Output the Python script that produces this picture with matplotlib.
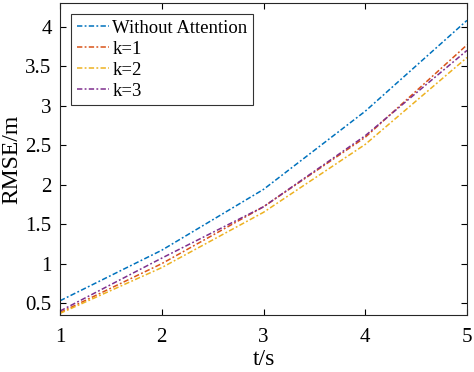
import numpy as np
import matplotlib
matplotlib.use('Agg')
from matplotlib import pyplot as plt

plt.rcParams['font.family'] = ['Liberation Serif', 'DejaVu Serif']
plt.rcParams['mathtext.fontset'] = 'stix'

# prediction horizon and RMSE values
t = [1, 2, 3, 4, 5]
rmse_without = [0.53, 1.17, 1.94, 2.93, 4.08]
rmse_k1 = [0.38, 1.00, 1.72, 2.60, 3.77]
rmse_k2 = [0.37, 0.95, 1.65, 2.51, 3.61]
rmse_k3 = [0.40, 1.07, 1.72, 2.62, 3.70]

labels = ['Without Attention', 'k=1', 'k=2', 'k=3']
colors = ['#0072BD', '#D95319', '#EDB120', '#7E2F8E']

fig = plt.figure(figsize=(4.74, 3.72), dpi=100)
ax = fig.add_axes([60 / 474, 57 / 372, 407 / 474, 312 / 372])

# short matlab-like dash-dot
dashdot = (0, (3.5, 1.5, 1.2, 1.5))
for y, lab, c in zip([rmse_without, rmse_k1, rmse_k2, rmse_k3], labels, colors):
    ax.plot(t, y, linestyle=dashdot, color=c, linewidth=1.1, label=lab)

ax.set_xlim(1, 5)
ax.set_ylim(0.35, 4.3)
ax.set_xticks([1, 2, 3, 4, 5])
ax.set_yticks([0.5, 1, 1.5, 2, 2.5, 3, 3.5, 4])
ax.set_yticklabels(['0.5', '1', '1.5', '2', '2.5', '3', '3.5', '4'])
ax.tick_params(direction='in', labelsize=15, length=4, width=0.8, top=True, right=True)
ax.tick_params(axis='x', pad=9)
ax.tick_params(axis='y', pad=6)
for s in ax.spines.values():
    s.set_linewidth(0.8)
    s.set_color('#262626')

ax.set_xlabel('t/s', fontsize=17, labelpad=2)
ax.set_ylabel('RMSE/m', fontsize=17, labelpad=2)

leg = ax.legend(loc='upper left', fontsize=13.5, frameon=True, fancybox=False,
                edgecolor='black', handlelength=1.7, handletextpad=0.2,
                labelspacing=0.2, borderpad=0.3, borderaxespad=0.6)
leg.get_frame().set_linewidth(0.8)

plt.savefig('out.png', dpi=100)
